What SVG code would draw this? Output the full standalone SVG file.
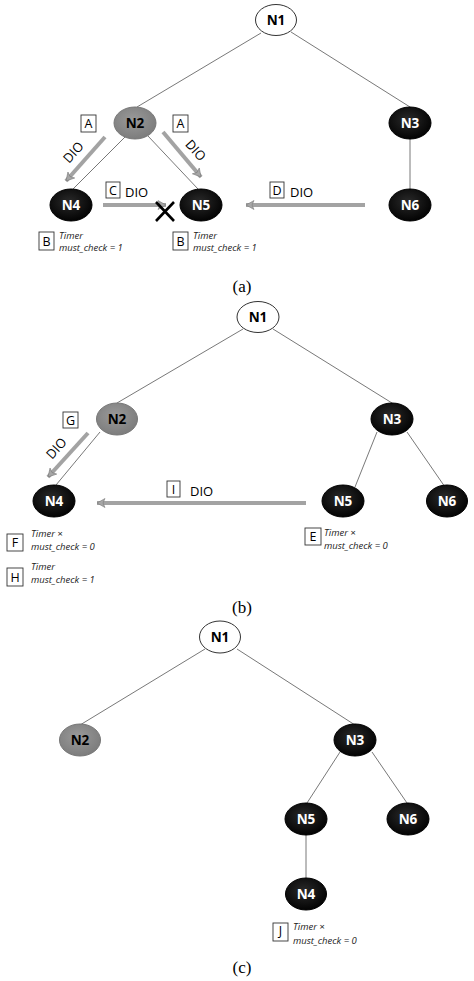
<svg xmlns="http://www.w3.org/2000/svg" width="474" height="981" viewBox="0 0 474 981">
<defs>
<radialGradient id="gBlack" cx="45%" cy="40%" r="65%"><stop offset="0" stop-color="#2a2a2a"/><stop offset="1" stop-color="#000"/></radialGradient>
<radialGradient id="gGray" cx="45%" cy="40%" r="65%"><stop offset="0" stop-color="#9a9a9a"/><stop offset="1" stop-color="#7a7a7a"/></radialGradient>
<marker id="ah" markerUnits="userSpaceOnUse" markerWidth="12" markerHeight="12" viewBox="0 0 12 12" refX="9" refY="6" orient="auto">
<path d="M1,1.5 L9,6 L1,10.5 L3,6 Z" fill="#a6a6a6" stroke="#7a7a7a" stroke-width="0.6"/>
</marker>
<style>
.white{fill:#fff;stroke:#333;stroke-width:1}
.gray{fill:url(#gGray);stroke:#777;stroke-width:1}
.black{fill:url(#gBlack);stroke:#000;stroke-width:1}
.nt{font-family:"Open Sans","Liberation Sans",sans-serif;font-weight:bold;font-size:13.5px;text-anchor:middle;dominant-baseline:central}
.nb{fill:#000}
.nw{fill:#fff}
.edge{stroke:#555;stroke-width:0.8;fill:none}
.dio{stroke:#a3a3a3;stroke-width:4;fill:none;marker-end:url(#ah)}
.lbl{font-family:"Open Sans","Liberation Sans",sans-serif;font-size:12.5px;fill:#000;text-anchor:middle;dominant-baseline:central}
.box{fill:#fff;stroke:#333;stroke-width:0.9}
.dt{font-family:"Open Sans","Liberation Sans",sans-serif;font-size:13px;fill:#000}
.it{font-family:"Open Sans","Liberation Sans",sans-serif;font-style:italic;font-size:9.5px;fill:#222}
.cap{font-family:"Liberation Serif","DejaVu Serif",serif;font-size:17px;fill:#000;text-anchor:middle}
</style>
</defs>
<rect width="474" height="981" fill="#fff"/>

<g id="connectors">
<line class="edge" x1="261" y1="33" x2="137" y2="107"/>
<line class="edge" x1="291" y1="32" x2="410" y2="107"/>
<line class="edge" x1="410" y1="139" x2="410" y2="189"/>
<line class="edge" x1="125" y1="137" x2="73" y2="189"/>
<line class="edge" x1="148" y1="136" x2="198" y2="189"/>
<line class="dio" x1="105" y1="137" x2="66" y2="181"/>
<line class="dio" x1="163" y1="132" x2="201" y2="177"/>
<line class="dio" x1="103" y1="205" x2="166" y2="205"/>
<line class="dio" x1="365" y1="205" x2="246" y2="205"/>
<line class="edge" x1="243" y1="329" x2="117" y2="403"/>
<line class="edge" x1="273" y1="329" x2="392" y2="403"/>
<line class="edge" x1="377" y1="432" x2="355" y2="487"/>
<line class="edge" x1="407" y1="432" x2="445" y2="487"/>
<line class="edge" x1="100" y1="432" x2="56" y2="485"/>
<line class="dio" x1="88" y1="433" x2="48" y2="477"/>
<line class="dio" x1="306" y1="503" x2="97" y2="503"/>
<line class="edge" x1="205" y1="649" x2="80" y2="725"/>
<line class="edge" x1="237" y1="649" x2="355" y2="725"/>
<line class="edge" x1="340" y1="752" x2="307" y2="803"/>
<line class="edge" x1="372" y1="752" x2="407" y2="803"/>
<line class="edge" x1="306" y1="835" x2="306" y2="878"/>
</g>

<g id="a-N1"><ellipse class="white" cx="276" cy="20" rx="20.5" ry="15.5"/><text class="nt nb" x="276" y="20">N1</text></g>
<g id="a-N2"><ellipse class="gray" cx="135" cy="123" rx="21" ry="16"/><text class="nt nb" x="135" y="123">N2</text></g>
<g id="a-N3"><ellipse class="black" cx="410" cy="123" rx="21" ry="16"/><text class="nt nw" x="410" y="123">N3</text></g>
<g id="a-N4"><ellipse class="black" cx="71" cy="205" rx="21" ry="16"/><text class="nt nw" x="71" y="205">N4</text></g>
<g id="a-N5"><ellipse class="black" cx="201" cy="205" rx="21" ry="16"/><text class="nt nw" x="201" y="205">N5</text></g>
<g id="a-N6"><ellipse class="black" cx="410" cy="205" rx="21" ry="16"/><text class="nt nw" x="410" y="205">N6</text></g>

<g id="a-labels">
<rect class="box" x="81" y="115" width="15" height="17"/><text class="lbl" x="88.5" y="123.5">A</text>
<rect class="box" x="173" y="115" width="15" height="17"/><text class="lbl" x="180.5" y="123.5">A</text>
<text class="dt" x="73" y="152" text-anchor="middle" dominant-baseline="central" transform="rotate(-48 73 152)">DIO</text>
<text class="dt" x="196" y="150" text-anchor="middle" dominant-baseline="central" transform="rotate(48 196 150)">DIO</text>
<rect class="box" x="106" y="182" width="14" height="16"/><text class="lbl" x="113" y="190">C</text>
<text class="dt" x="125" y="197">DIO</text>
<rect class="box" x="270" y="182" width="14" height="16"/><text class="lbl" x="277" y="190">D</text>
<text class="dt" x="290" y="197">DIO</text>
<path d="M156,202 L174,221 M174,202 L156,221" stroke="#000" stroke-width="2.6" fill="none"/>
<rect class="box" x="39" y="232" width="15" height="18"/><text class="lbl" x="46.5" y="241">B</text>
<text class="it" x="59" y="239">Timer</text><text class="it" x="59" y="251">must_check = 1</text>
<rect class="box" x="173" y="232" width="15" height="18"/><text class="lbl" x="180.5" y="241">B</text>
<text class="it" x="193" y="239">Timer</text><text class="it" x="193" y="251">must_check = 1</text>
<text class="cap" x="242" y="292">(a)</text>
</g>

<g id="b-N1"><ellipse class="white" cx="258" cy="317" rx="21" ry="15.5"/><text class="nt nb" x="258" y="317">N1</text></g>
<g id="b-N2"><ellipse class="gray" cx="117" cy="419" rx="20.5" ry="16"/><text class="nt nb" x="117" y="419">N2</text></g>
<g id="b-N3"><ellipse class="black" cx="392" cy="419" rx="21" ry="16"/><text class="nt nw" x="392" y="419">N3</text></g>
<g id="b-N4"><ellipse class="black" cx="54" cy="501" rx="21" ry="16"/><text class="nt nw" x="54" y="501">N4</text></g>
<g id="b-N5"><ellipse class="black" cx="343" cy="501" rx="21" ry="16"/><text class="nt nw" x="343" y="501">N5</text></g>
<g id="b-N6"><ellipse class="black" cx="447" cy="501" rx="20.5" ry="16"/><text class="nt nw" x="447" y="501">N6</text></g>

<g id="b-labels">
<rect class="box" x="63" y="412" width="15" height="16"/><text class="lbl" x="70.5" y="420">G</text>
<text class="dt" x="56" y="448" text-anchor="middle" dominant-baseline="central" transform="rotate(-48 56 448)">DIO</text>
<rect class="box" x="167" y="481" width="13" height="16"/><text class="lbl" x="173.5" y="489">I</text>
<text class="dt" x="190" y="496">DIO</text>
<rect class="box" x="7" y="534" width="16" height="17"/><text class="lbl" x="15" y="542.5">F</text>
<text class="it" x="31" y="537">Timer ×</text><text class="it" x="31" y="550">must_check = 0</text>
<rect class="box" x="7" y="568" width="16" height="18"/><text class="lbl" x="15" y="577">H</text>
<text class="it" x="31" y="570">Timer</text><text class="it" x="31" y="583">must_check = 1</text>
<rect class="box" x="305" y="528" width="16" height="17"/><text class="lbl" x="313" y="536.5">E</text>
<text class="it" x="324" y="536">Timer ×</text><text class="it" x="324" y="549">must_check = 0</text>
<text class="cap" x="242" y="613">(b)</text>
</g>

<g id="c-N1"><ellipse class="white" cx="220" cy="637" rx="20.5" ry="16"/><text class="nt nb" x="220" y="637">N1</text></g>
<g id="c-N2"><ellipse class="gray" cx="80" cy="740" rx="20.5" ry="16"/><text class="nt nb" x="80" y="740">N2</text></g>
<g id="c-N3"><ellipse class="black" cx="355" cy="740" rx="21" ry="16"/><text class="nt nw" x="355" y="740">N3</text></g>
<g id="c-N5"><ellipse class="black" cx="306" cy="819" rx="21" ry="16"/><text class="nt nw" x="306" y="819">N5</text></g>
<g id="c-N6"><ellipse class="black" cx="408" cy="819" rx="21" ry="16"/><text class="nt nw" x="408" y="819">N6</text></g>
<g id="c-N4"><ellipse class="black" cx="306" cy="894" rx="20.5" ry="16"/><text class="nt nw" x="306" y="894">N4</text></g>

<g id="c-labels">
<rect class="box" x="273" y="923" width="15" height="18"/><text class="lbl" x="280.5" y="930">J</text>
<text class="it" x="293" y="930">Timer ×</text><text class="it" x="293" y="944">must_check = 0</text>
<text class="cap" x="242" y="973">(c)</text>
</g>
</svg>
